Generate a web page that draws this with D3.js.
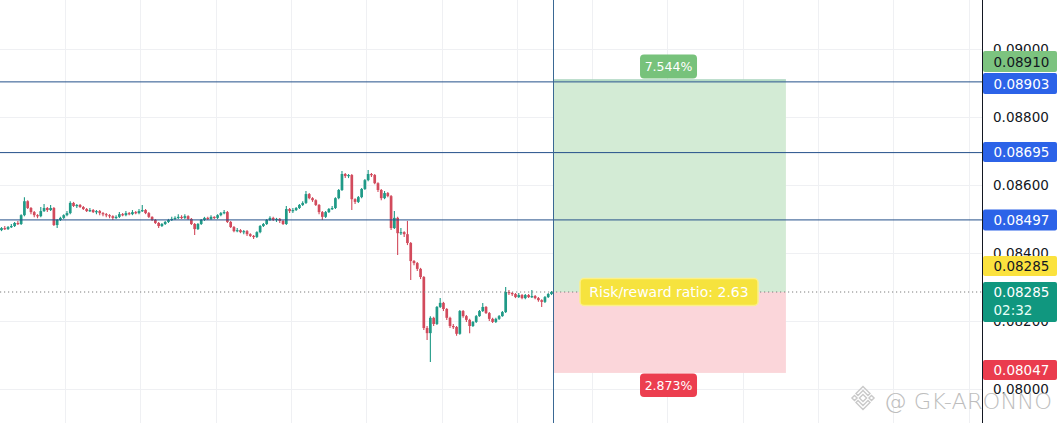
<!DOCTYPE html>
<html><head><meta charset="utf-8">
<script src="https://cdn.jsdelivr.net/npm/d3@7"></script>
<style>html,body{margin:0;padding:0;background:#fff;overflow:hidden}svg{display:block}</style>
</head><body><svg id="c" width="1060" height="423"></svg>
<script>
const opens=[0.08467,0.08473,0.08470,0.08476,0.08479,0.08488,0.08485,0.08511,0.08552,0.08532,
0.08520,0.08511,0.08508,0.08523,0.08532,0.08526,0.08532,0.08482,0.08497,0.08503,
0.08511,0.08517,0.08547,0.08538,0.08541,0.08535,0.08529,0.08523,0.08526,0.08520,
0.08523,0.08517,0.08514,0.08511,0.08508,0.08503,0.08506,0.08514,0.08511,0.08517,
0.08514,0.08520,0.08517,0.08523,0.08526,0.08517,0.08506,0.08497,0.08488,0.08479,
0.08485,0.08491,0.08497,0.08500,0.08503,0.08506,0.08503,0.08508,0.08500,0.08485,
0.08470,0.08485,0.08497,0.08503,0.08500,0.08506,0.08503,0.08511,0.08517,0.08520,
0.08491,0.08476,0.08464,0.08467,0.08461,0.08464,0.08455,0.08450,0.08447,0.08461,
0.08479,0.08485,0.08497,0.08503,0.08497,0.08500,0.08494,0.08485,0.08529,0.08523,
0.08526,0.08532,0.08541,0.08547,0.08573,0.08561,0.08555,0.08541,0.08520,0.08506,
0.08520,0.08529,0.08532,0.08561,0.08585,0.08632,0.08626,0.08629,0.08558,0.08550,
0.08564,0.08588,0.08614,0.08632,0.08629,0.08605,0.08585,0.08561,0.08576,0.08567,
0.08473,0.08503,0.08458,0.08461,0.08455,0.08429,0.08376,0.08370,0.08353,0.08329,
0.08179,0.08164,0.08209,0.08191,0.08241,0.08253,0.08235,0.08209,0.08185,0.08182,
0.08162,0.08229,0.08214,0.08203,0.08185,0.08197,0.08214,0.08229,0.08241,0.08223,
0.08206,0.08197,0.08206,0.08214,0.08226,0.08285,0.08282,0.08279,0.08270,0.08276,
0.08267,0.08276,0.08270,0.08273,0.08267,0.08261,0.08256,0.08270,0.08279];
const highs=[0.08476,0.08479,0.08479,0.08485,0.08491,0.08494,0.08514,0.08564,0.08555,0.08535,
0.08523,0.08514,0.08535,0.08544,0.08535,0.08541,0.08535,0.08500,0.08506,0.08514,
0.08523,0.08552,0.08550,0.08544,0.08544,0.08538,0.08532,0.08532,0.08529,0.08526,
0.08526,0.08520,0.08517,0.08514,0.08511,0.08511,0.08520,0.08517,0.08523,0.08520,
0.08526,0.08523,0.08529,0.08541,0.08529,0.08520,0.08508,0.08500,0.08491,0.08488,
0.08494,0.08500,0.08506,0.08508,0.08514,0.08511,0.08514,0.08511,0.08503,0.08488,
0.08488,0.08500,0.08506,0.08506,0.08511,0.08508,0.08514,0.08520,0.08526,0.08523,
0.08494,0.08479,0.08473,0.08470,0.08467,0.08467,0.08458,0.08453,0.08464,0.08482,
0.08488,0.08500,0.08508,0.08506,0.08503,0.08503,0.08497,0.08538,0.08532,0.08532,
0.08535,0.08544,0.08552,0.08582,0.08576,0.08564,0.08558,0.08544,0.08523,0.08523,
0.08532,0.08538,0.08564,0.08588,0.08641,0.08635,0.08632,0.08632,0.08561,0.08567,
0.08591,0.08617,0.08644,0.08635,0.08632,0.08608,0.08588,0.08582,0.08579,0.08570,
0.08523,0.08506,0.08473,0.08464,0.08494,0.08432,0.08379,0.08373,0.08356,0.08332,
0.08185,0.08214,0.08212,0.08244,0.08267,0.08256,0.08238,0.08212,0.08191,0.08185,
0.08232,0.08232,0.08217,0.08206,0.08200,0.08217,0.08232,0.08253,0.08244,0.08226,
0.08209,0.08209,0.08217,0.08229,0.08300,0.08291,0.08285,0.08282,0.08282,0.08279,
0.08279,0.08279,0.08291,0.08276,0.08270,0.08264,0.08273,0.08282,0.08288];
const lows=[0.08464,0.08467,0.08467,0.08473,0.08476,0.08482,0.08482,0.08508,0.08529,0.08514,
0.08505,0.08502,0.08505,0.08520,0.08520,0.08523,0.08479,0.08473,0.08494,0.08500,
0.08508,0.08514,0.08535,0.08532,0.08532,0.08526,0.08520,0.08520,0.08517,0.08514,
0.08511,0.08508,0.08505,0.08502,0.08497,0.08500,0.08503,0.08508,0.08508,0.08511,
0.08511,0.08514,0.08514,0.08520,0.08514,0.08503,0.08494,0.08485,0.08473,0.08476,
0.08482,0.08488,0.08494,0.08497,0.08500,0.08500,0.08500,0.08497,0.08482,0.08453,
0.08467,0.08482,0.08494,0.08497,0.08497,0.08500,0.08500,0.08508,0.08514,0.08488,
0.08473,0.08461,0.08461,0.08458,0.08455,0.08450,0.08447,0.08441,0.08444,0.08458,
0.08476,0.08482,0.08494,0.08494,0.08491,0.08488,0.08482,0.08482,0.08517,0.08517,
0.08523,0.08529,0.08538,0.08544,0.08558,0.08550,0.08538,0.08514,0.08497,0.08503,
0.08517,0.08526,0.08529,0.08558,0.08582,0.08620,0.08620,0.08526,0.08544,0.08547,
0.08561,0.08585,0.08611,0.08623,0.08602,0.08579,0.08555,0.08558,0.08564,0.08467,
0.08470,0.08394,0.08453,0.08447,0.08423,0.08320,0.08364,0.08347,0.08323,0.08173,
0.08144,0.08079,0.08185,0.08188,0.08238,0.08229,0.08203,0.08179,0.08176,0.08156,
0.08159,0.08209,0.08197,0.08164,0.08182,0.08194,0.08212,0.08226,0.08220,0.08200,
0.08194,0.08194,0.08203,0.08212,0.08223,0.08276,0.08273,0.08267,0.08267,0.08264,
0.08264,0.08267,0.08267,0.08264,0.08256,0.08241,0.08253,0.08267,0.08276];
const closes=[0.08473,0.08470,0.08476,0.08479,0.08488,0.08485,0.08511,0.08552,0.08532,0.08520,
0.08511,0.08508,0.08523,0.08532,0.08526,0.08532,0.08482,0.08497,0.08503,0.08511,
0.08517,0.08547,0.08538,0.08541,0.08535,0.08529,0.08523,0.08526,0.08520,0.08523,
0.08517,0.08514,0.08511,0.08508,0.08503,0.08506,0.08514,0.08511,0.08517,0.08514,
0.08520,0.08517,0.08523,0.08526,0.08517,0.08506,0.08497,0.08488,0.08479,0.08485,
0.08491,0.08497,0.08500,0.08503,0.08506,0.08503,0.08508,0.08500,0.08485,0.08470,
0.08485,0.08497,0.08503,0.08500,0.08506,0.08503,0.08511,0.08517,0.08520,0.08491,
0.08476,0.08464,0.08467,0.08461,0.08464,0.08455,0.08450,0.08447,0.08461,0.08479,
0.08485,0.08497,0.08503,0.08497,0.08500,0.08494,0.08485,0.08529,0.08523,0.08526,
0.08532,0.08541,0.08547,0.08573,0.08561,0.08555,0.08541,0.08520,0.08506,0.08520,
0.08529,0.08532,0.08561,0.08585,0.08632,0.08626,0.08629,0.08558,0.08550,0.08564,
0.08588,0.08614,0.08632,0.08629,0.08605,0.08585,0.08561,0.08576,0.08567,0.08473,
0.08503,0.08458,0.08461,0.08455,0.08429,0.08376,0.08370,0.08353,0.08329,0.08179,
0.08164,0.08209,0.08191,0.08241,0.08253,0.08235,0.08209,0.08185,0.08182,0.08162,
0.08229,0.08214,0.08203,0.08185,0.08197,0.08214,0.08229,0.08241,0.08223,0.08206,
0.08197,0.08206,0.08214,0.08226,0.08285,0.08282,0.08279,0.08270,0.08276,0.08267,
0.08276,0.08270,0.08273,0.08267,0.08261,0.08256,0.08270,0.08279,0.08285];

const priceTicks=[0.080,0.082,0.084,0.086,0.088,0.090];
const levelLines=[0.08903,0.08695,0.08497];
const entryPrice=0.08285, targetPrice=0.08910, stopPrice=0.08047;
const countdown="02:32";
const watermark="@ GK-ARONNO";

const W=1060,H=423,axisX=982;
const FONT='"DejaVu Sans", Verdana, sans-serif';
const UP='#1f9a87', DOWN='#d24a5c';
const svg=d3.select('#c');
svg.append('rect').attr('width',W).attr('height',H).attr('fill','#fff');

const n=closes.length;
const x=d3.scaleLinear().domain([0,n-1]).range([1.5,551.5]);
const y=d3.scaleLinear().domain([0.080,0.090]).range([388.9,48.9]);
const entryIdx=n-0.5, endIdx=239.6;

// grid
const g=svg.append('g');
g.selectAll('line.h').data(priceTicks).join('line')
  .attr('x1',0).attr('x2',axisX).attr('y1',d=>Math.round(y(d))+0.5).attr('y2',d=>Math.round(y(d))+0.5)
  .attr('stroke','#eff0f3');
const gridIdx=d3.range(19.4,300,23).filter(i=>x(i)<axisX);
g.selectAll('line.v').data(gridIdx).join('line')
  .attr('x1',d=>Math.round(x(d))+0.5).attr('x2',d=>Math.round(x(d))+0.5).attr('y1',0).attr('y2',H)
  .attr('stroke','#eff0f3');

// risk/reward zones
const zx0=x(entryIdx), zx1=x(endIdx);
svg.append('rect').attr('x',zx0).attr('y',y(targetPrice)).attr('width',zx1-zx0)
  .attr('height',y(entryPrice)-y(targetPrice)).attr('fill','#d3ebd5');
svg.append('rect').attr('x',zx0).attr('y',y(entryPrice)).attr('width',zx1-zx0)
  .attr('height',y(stopPrice)-y(entryPrice)).attr('fill','#fbd6da');
svg.append('line').attr('x1',zx0).attr('x2',zx1).attr('y1',y(targetPrice)+0.5).attr('y2',y(targetPrice)+0.5)
  .attr('stroke','#92c9b2');

// candles
const cg=svg.append('g');
const idx=d3.range(n);
cg.selectAll('line').data(idx).join('line')
  .attr('x1',i=>x(i)).attr('x2',i=>x(i))
  .attr('y1',i=>y(highs[i])).attr('y2',i=>y(lows[i]))
  .attr('stroke',i=>closes[i]>=opens[i]?UP:DOWN).attr('stroke-width',1.1);
cg.selectAll('rect').data(idx).join('rect')
  .attr('x',i=>x(i)-1.35).attr('width',2.7)
  .attr('y',i=>y(Math.max(opens[i],closes[i])))
  .attr('height',i=>Math.max(1.2,Math.abs(y(opens[i])-y(closes[i]))))
  .attr('fill',i=>closes[i]>=opens[i]?UP:DOWN);

// level lines
svg.selectAll('line.lvl').data(levelLines).join('line')
  .attr('x1',0).attr('x2',axisX).attr('y1',d=>y(d)).attr('y2',d=>y(d))
  .attr('stroke','#24508a').attr('stroke-width',1);

// current price dotted
svg.append('line').attr('x1',0).attr('x2',axisX).attr('y1',y(entryPrice)).attr('y2',y(entryPrice))
  .attr('stroke','#7d7d7d').attr('stroke-dasharray','1.2,2.8');

// vertical crosshair at entry
svg.append('line').attr('x1',Math.round(zx0)+0.5).attr('x2',Math.round(zx0)+0.5).attr('y1',0).attr('y2',H)
  .attr('stroke','#3a6894').attr('stroke-width',1);

// price axis
svg.append('rect').attr('x',axisX).attr('y',0).attr('width',W-axisX).attr('height',H).attr('fill','#fff');
svg.append('line').attr('x1',axisX+0.5).attr('x2',axisX+0.5).attr('y1',0).attr('y2',H).attr('stroke','#131722');
const ax=svg.append('g').attr('transform',`translate(${axisX},0)`)
  .call(d3.axisRight(y).tickValues(priceTicks).tickFormat(d3.format('.5f')).tickSize(0).tickPadding(11));
ax.select('.domain').remove();
ax.selectAll('text').attr('font-family',FONT).attr('font-size','13.5px').attr('fill','#131722');

// price tags
const fmt=d3.format('.5f');
const tags=[
  {v:targetPrice, top:51, h:21, fill:'#7cc37f', color:'#131722'},
  {v:levelLines[0], top:73, h:21, fill:'#2c63e8', color:'#fff'},
  {v:levelLines[1], top:142, h:20, fill:'#2c63e8', color:'#fff'},
  {v:levelLines[2], top:209.5, h:21, fill:'#2c63e8', color:'#fff'},
  {v:entryPrice, top:256, h:20, fill:'#fbe23e', color:'#131722'},
  {v:stopPrice, top:360, h:20, fill:'#ea3c4e', color:'#fff'}
];
const tg=svg.append('g');
tags.forEach(t=>{
  tg.append('rect').attr('x',axisX+1).attr('y',t.top).attr('width',74).attr('height',t.h).attr('rx',2).attr('fill',t.fill);
  tg.append('text').attr('x',axisX+11.5).attr('y',t.top+t.h/2+5).attr('font-family',FONT).attr('font-size','13.5px')
    .attr('fill',t.color).text(fmt(t.v));
});
// countdown tag
tg.append('rect').attr('x',axisX+1).attr('y',282).attr('width',74).attr('height',40).attr('rx',2).attr('fill','#10977f');
tg.append('text').attr('x',axisX+11.5).attr('y',297).attr('font-family',FONT).attr('font-size','13.5px').attr('fill','#fff').text(fmt(entryPrice));
tg.append('text').attr('x',axisX+11.5).attr('y',315).attr('font-family',FONT).attr('font-size','13.5px').attr('fill','#e8fff8').text(countdown);

// RR labels
const cx=(zx0+zx1)/2;
const upPct=(targetPrice-entryPrice)/entryPrice*100;
const dnPct=(entryPrice-stopPrice)/entryPrice*100;
const ratio=(targetPrice-entryPrice)/(entryPrice-stopPrice);
function pill(cxp,top,w,h,fill,txt,size,stroke){
  svg.append('rect').attr('x',cxp-w/2).attr('y',top).attr('width',w).attr('height',h).attr('rx',4)
    .attr('fill',fill).attr('stroke',stroke||'none').attr('stroke-width',stroke?1.5:0);
  svg.append('text').attr('x',cxp).attr('y',top+h/2+size*0.36).attr('text-anchor','middle')
    .attr('font-family',FONT).attr('font-size',size+'px').attr('fill','#fff').text(txt);
}
pill(cx-1,y(targetPrice)-25,57,24,'#77c27b',upPct.toFixed(3)+'%',12.5);
pill(cx-1,y(stopPrice)+0.5,57,23.5,'#ec3e4f',dnPct.toFixed(3)+'%',12.5);
pill(cx-0.5,y(entryPrice)-13.5,178,27,'#f6e33e','Risk/reward ratio: '+ratio.toFixed(2),14,'#fbf08a');

// watermark
const wm=svg.append('g').attr('fill','none').attr('stroke','#c9c9c9').attr('stroke-width',1.4);
const lx=863, ly=398;
const dia=(cx0,cy0,r)=>`M${cx0},${cy0-r}L${cx0+r},${cy0}L${cx0},${cy0+r}L${cx0-r},${cy0}Z`;
wm.append('path').attr('d',dia(lx,ly,3.6));
wm.append('path').attr('d',dia(lx-8.5,ly,2.6));
wm.append('path').attr('d',dia(lx+8.5,ly,2.6));
wm.append('path').attr('d',`M${lx-7},${ly-4.5}L${lx},${ly-11.5}L${lx+7},${ly-4.5}L${lx+5},${ly-2.5}L${lx},${ly-7.5}L${lx-5},${ly-2.5}Z`);
wm.append('path').attr('d',`M${lx-7},${ly+4.5}L${lx},${ly+11.5}L${lx+7},${ly+4.5}L${lx+5},${ly+2.5}L${lx},${ly+7.5}L${lx-5},${ly+2.5}Z`);
svg.append('text').attr('x',884).attr('y',409).attr('font-family',FONT).attr('font-weight',200)
  .attr('font-size','22px').attr('fill','#bdbdbd').attr('textLength',168).attr('lengthAdjust','spacingAndGlyphs')
  .text(watermark);
</script></body></html>
